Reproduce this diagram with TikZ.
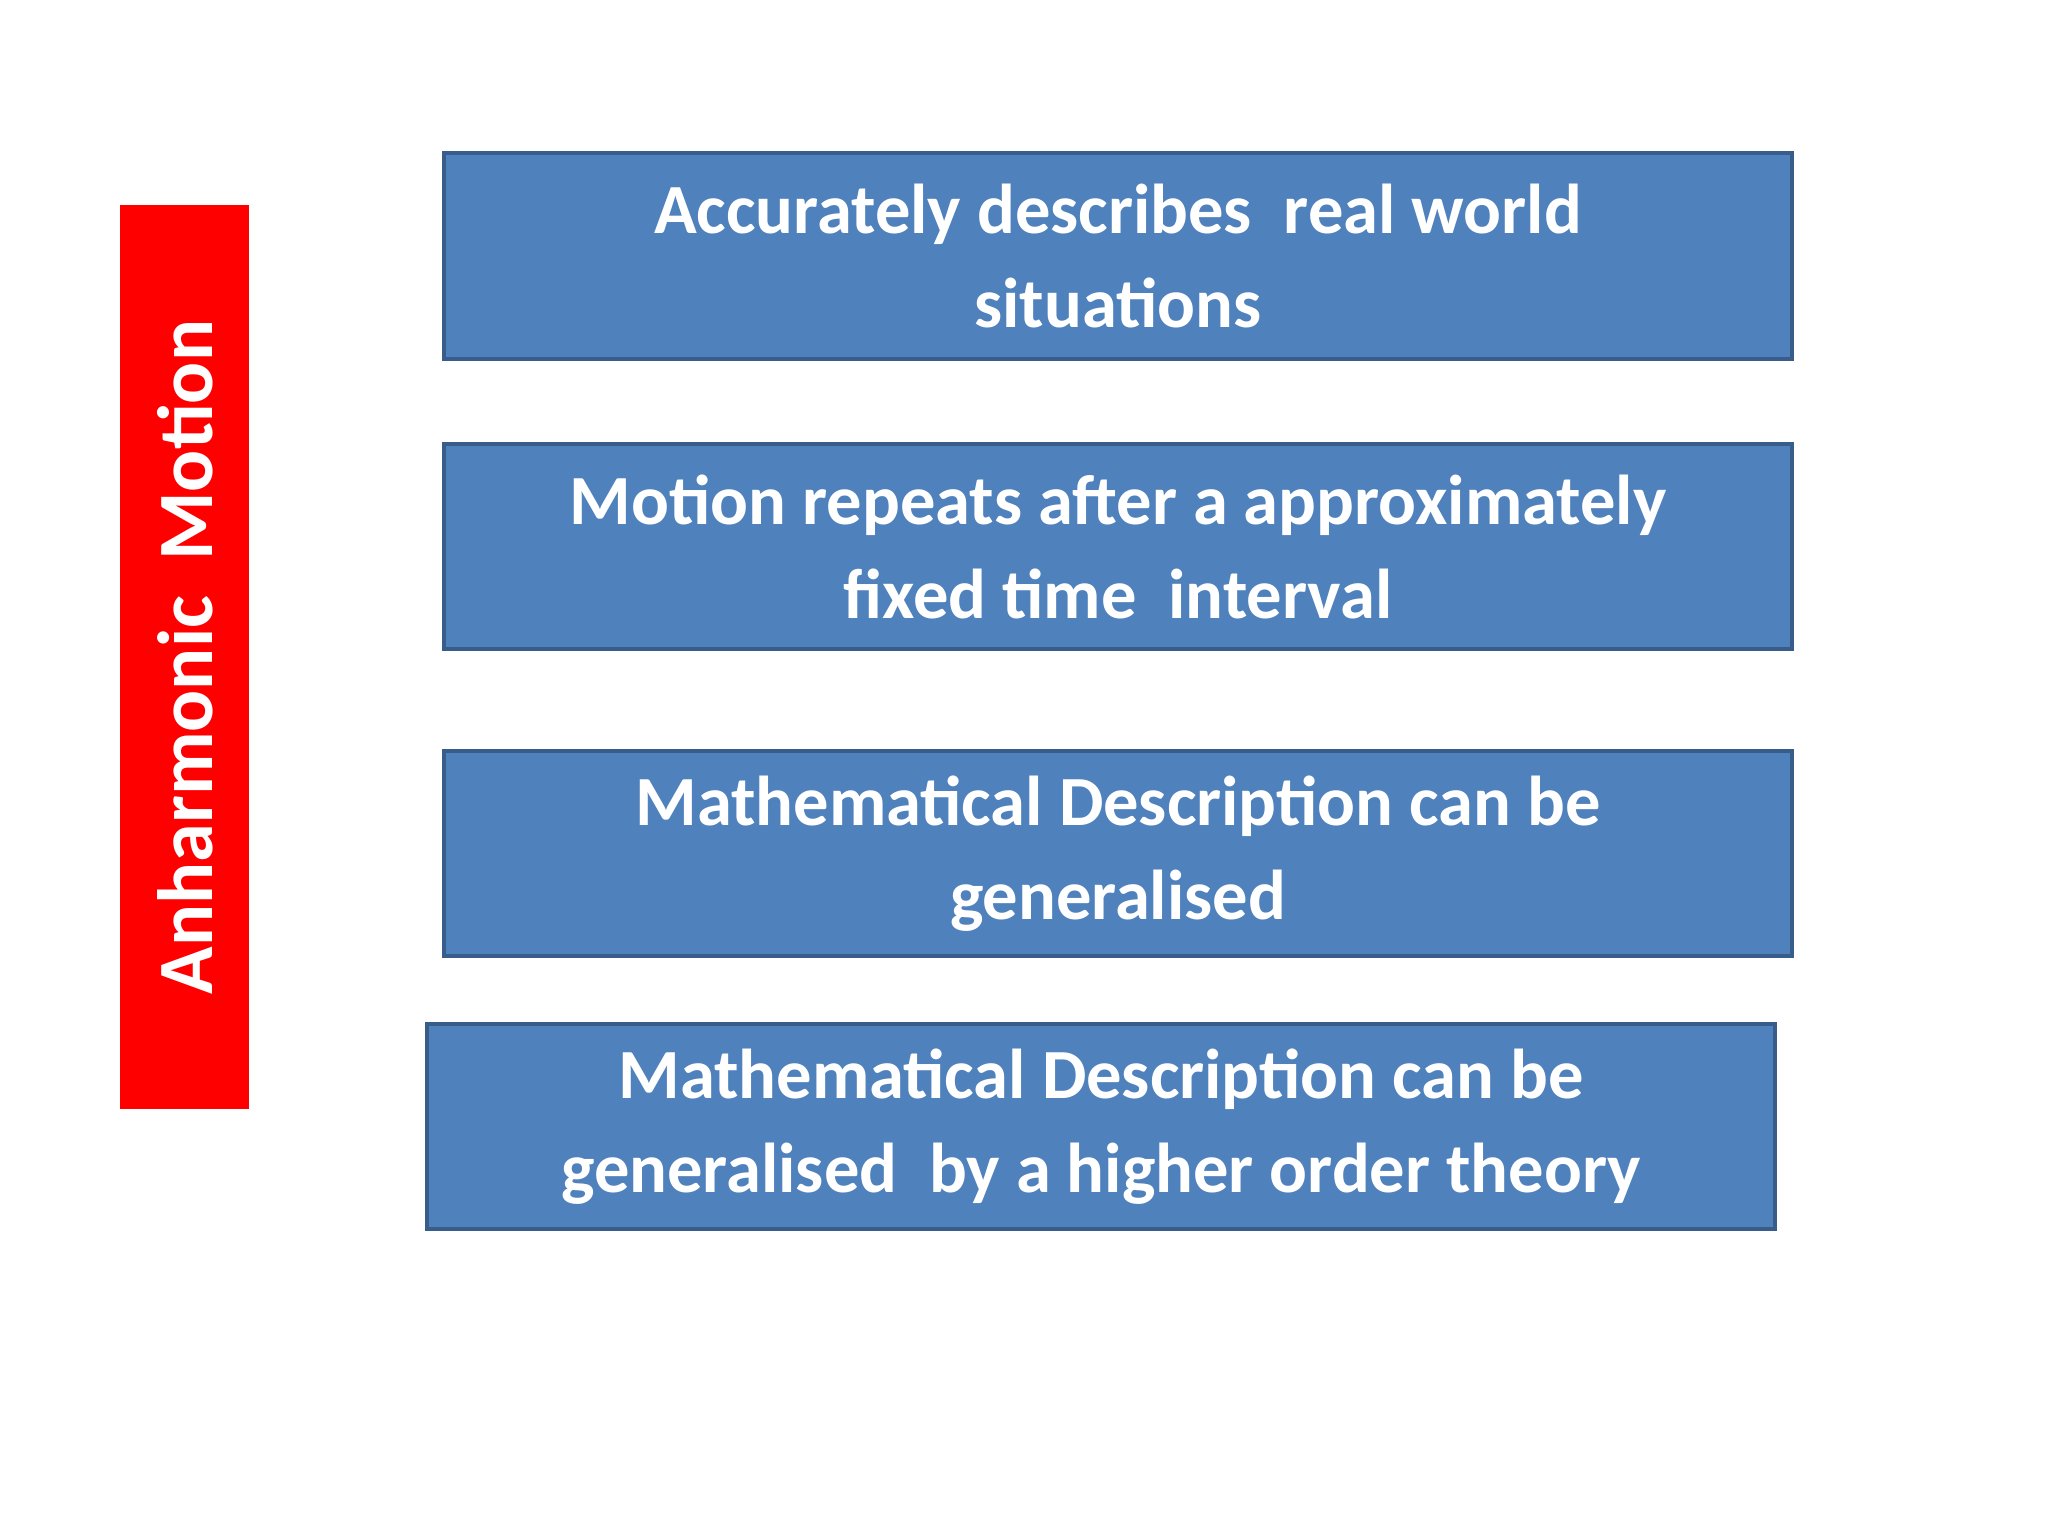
\documentclass[tikz,border=0pt]{standalone}
\usepackage{fontspec}
\setmainfont{Carlito}
\definecolor{boxfill}{RGB}{79,129,189}
\definecolor{boxline}{RGB}{56,93,138}
\begin{document}
\begin{tikzpicture}[x=1pt,y=-1pt,
  bx/.style={draw=boxline,line width=3pt,fill=boxfill,text=white,align=center,
    font=\bfseries\fontsize{54}{72}\selectfont,inner sep=0pt}]
\useasboundingbox (0,0) rectangle (1568,1176);
\fill[red] (92,157) rectangle (191,849);
\node[text=white,rotate=90,font=\bfseries\fontsize{60}{72}\selectfont] (t) at (141.5,503) {Anharmonic\ \ Motion};
\node[bx,minimum width=1032pt,minimum height=158pt] (b1) at (856,196) {Accurately describes\ \ real world\\situations};
\node[bx,minimum width=1032pt,minimum height=157pt] (b2) at (856,418.5) {Motion repeats after a approximately\\fixed time\ \ interval};
\node[bx,minimum width=1032pt,minimum height=157pt] (b3) at (856,653.5) {Mathematical Description can be\\generalised};
\node[bx,minimum width=1032pt,minimum height=157pt] (b4) at (843,862.5) {Mathematical Description can be\\generalised\ \ by a higher order theory};
\end{tikzpicture}
\end{document}
